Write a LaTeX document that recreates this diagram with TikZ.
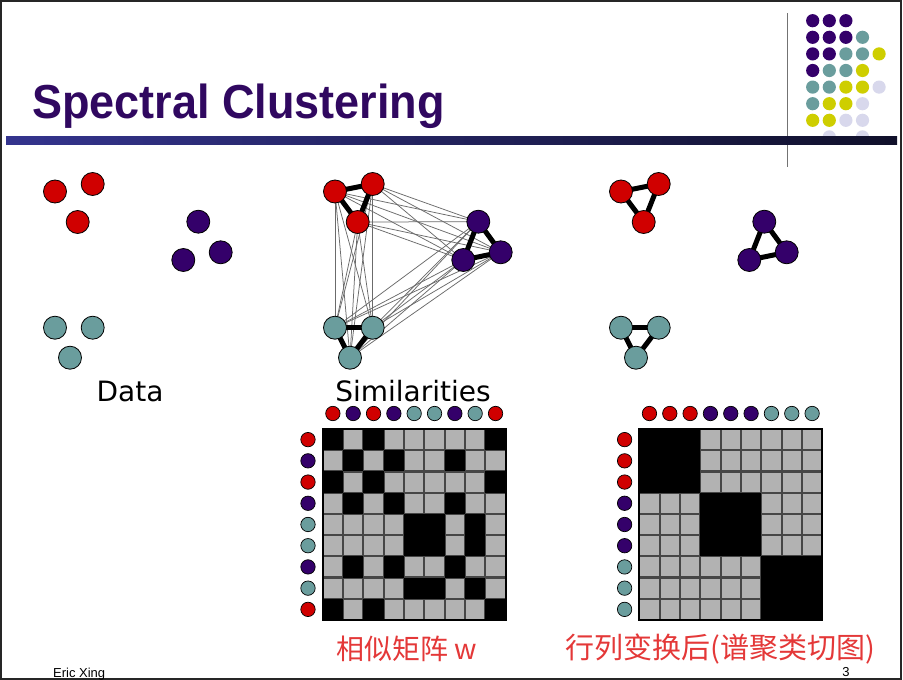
\documentclass[tikz,border=0pt]{standalone}
\usepackage{fontspec}
\setmainfont{Liberation Sans}
\newfontfamily\dejavu{DejaVu Sans}
\newfontfamily\cjk{Noto Sans CJK SC}
\definecolor{cR}{RGB}{208,0,0}
\definecolor{cP}{RGB}{52,0,106}
\definecolor{cT}{RGB}{106,157,157}
\definecolor{cY}{RGB}{206,206,0}
\definecolor{cL}{RGB}{216,216,236}
\definecolor{titlec}{RGB}{48,8,96}
\definecolor{cellg}{RGB}{178,178,178}
\definecolor{gridg}{RGB}{70,70,70}
\definecolor{redtxt}{RGB}{228,56,56}
\definecolor{barl}{RGB}{52,52,142}
\definecolor{barr}{RGB}{16,16,42}
\pgfdeclarelayer{bg}
\pgfdeclarelayer{edges}
\pgfsetlayers{bg,edges,main}
\newcommand\drawsimmat[2]{%
 \def\mx{#1}\def\my{429}\def\mw{20.33}\def\mh{21.22}%
 \fill[cellg] (\mx,\my) rectangle ({\mx+9*\mw},{\my+9*\mh});
 \foreach \k in {1,...,8}{
   \draw[gridline] ({\mx+\k*\mw},\my) -- ({\mx+\k*\mw},{\my+9*\mh});
   \draw[gridline] (\mx,{\my+\k*\mh}) -- ({\mx+9*\mw},{\my+\k*\mh});
 }
 \foreach \a [count=\i] in {#2}{
   \foreach \b [count=\j] in {#2}{
     \ifx\a\b \fill[black] ({\mx+(\j-1)*\mw},{\my+(\i-1)*\mh}) rectangle ({\mx+\j*\mw},{\my+\i*\mh});\fi
   }
   \path[fill=c\a,draw=black,line width=0.7pt] ({\mx+(\i-0.5)*\mw},413.5) circle[radius=7.2];
   \path[fill=c\a,draw=black,line width=0.7pt] ({\mx-14.7},{\my+(\i-0.5)*\mh}) circle[radius=7.2];
 }
 \draw[line width=2.2pt] (\mx,\my) rectangle ({\mx+9*\mw},{\my+9*\mh});
}
\def\nodot{none}
\begin{document}
\begin{tikzpicture}[x=1pt,y=-1pt,
  pt/.style={circle,draw=black,line width=0.8pt,minimum size=23pt,inner sep=0pt},
  simedge/.style={draw=black!58,line width=0.75pt},
  strong/.style={draw=black,line width=5pt},
  gridline/.style={draw=gridg,line width=2.2pt},
  gdot/.style={radius=6.6}]
\useasboundingbox (0,0) rectangle (903,680);
\begin{pgfonlayer}{bg}
\fill[white] (0,0) rectangle (903,680);
\end{pgfonlayer}
% frame
\draw[line width=2.4pt,black!85] (1.2,1.2) rectangle (901.2,678.8);
% decorative dot grid
\foreach \r/\row in {1/{cP,cP,cP},2/{cP,cP,cP,cT},3/{cP,cP,cT,cT,cY},4/{cP,cT,cT,cY},5/{cT,cT,cY,cY,cL},6/{cT,cY,cY,cL},7/{cY,cY,cL,cL},8/{none,cL,none,cL}}{
  \foreach \cc [count=\c] in \row {
    \ifx\cc\nodot\else\fill[\cc] ({812.7+16.6*(\c-1)},{20.7+16.6*(\r-1)}) circle[gdot];\fi
  }
}
\draw[black!55,line width=1.2pt] (787.3,13) -- (787.3,167);
\shade[left color=barl,right color=barr] (6,136) rectangle (897,144);
% title
\node[anchor=base west,text=titlec,inner sep=0pt,font=\fontsize{45}{45}\selectfont\bfseries] (title) at (32,118) {\scalebox{1}[1.06]{Spectral Clustering}};
% points
\foreach \p/\dx in {a/0,b/280,c/566}{
  \foreach \n/\x/\y/\c in {R1/55/191.5/cR,R2/92.7/184/cR,R3/77.7/222/cR,P1/198.3/221.7/cP,P2/220.7/252.3/cP,P3/183.3/260/cP,T1/55/327.7/cT,T2/92.7/327.7/cT,T3/70/357.7/cT}
    \node[pt,fill=\c] (\p\n) at ({\x+\dx},\y) {};
}
\begin{pgfonlayer}{edges}
\foreach \u in {R1,R2,R3}{\foreach \v in {P1,P2,P3,T1,T2,T3}{\draw[simedge] (b\u.center)--(b\v.center);}}
\foreach \u in {P1,P2,P3}{\foreach \v in {T1,T2,T3}{\draw[simedge] (b\u.center)--(b\v.center);}}
\foreach \p in {b,c}{\foreach \g in {R,P,T}{
  \draw[strong] (\p\g1.center)--(\p\g2.center);
  \draw[strong] (\p\g2.center)--(\p\g3.center);
  \draw[strong] (\p\g3.center)--(\p\g1.center);}}
\end{pgfonlayer}
% labels
\node[anchor=base,inner sep=0pt,font=\dejavu\fontsize{28}{28}\selectfont] (data) at (130,401) {Data};
\node[anchor=base,inner sep=0pt,font=\dejavu\fontsize{28}{28}\selectfont] (sim) at (413,401) {Similarities};
% matrices
\drawsimmat{322.7}{R,P,R,P,T,T,P,T,R}
\drawsimmat{639.3}{R,R,R,P,P,P,T,T,T}
% captions
\node[anchor=west,inner sep=0pt,text=redtxt,font=\cjk\fontsize{28}{28}\selectfont] (cap1) at (336,649) {相似矩阵 w};
\node[anchor=west,inner sep=0pt,text=redtxt,font=\cjk\fontsize{29}{29}\selectfont] (cap2) at (565,649) {行列变换后(谱聚类切图)};
% footer
\node[anchor=base west,inner sep=0pt,font=\fontsize{13}{13}\selectfont] (foot) at (53,677) {Eric Xing};
\node[anchor=base,inner sep=0pt,font=\fontsize{13}{13}\selectfont] (pg) at (846,676) {3};
\end{tikzpicture}
\end{document}
